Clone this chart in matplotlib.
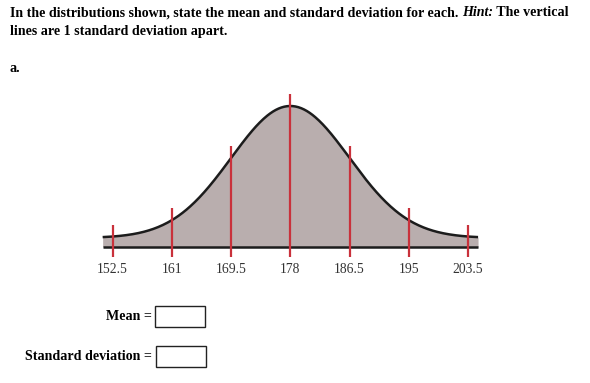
import numpy as np
import matplotlib.pyplot as plt
from matplotlib.patches import Rectangle

# distribution shown
mean = 178
sd = 8.5
tick_vals = [152.5, 161, 169.5, 178, 186.5, 195, 203.5]
tick_labels = ["152.5", "161", "169.5", "178", "186.5", "195", "203.5"]

W, H = 590, 383
fig = plt.figure(figsize=(W / 100, H / 100), dpi=100)
plt.rcParams['font.family'] = ['Liberation Serif', 'DejaVu Serif']

def px(x, y):
    # pixel coords (from top-left) -> figure fraction
    return x / W, 1 - y / H

# axes placed so that the values land where the picture has them
ax = fig.add_axes([95.3 / W, 1 - 261.1 / H, (485.4 - 95.3) / W, (261.1 - 91.9) / H])
ax.set_xlim(150, 206)
ax.set_ylim(-0.1, 1.1)

base = 0.064
x = np.linspace(mean - 3.17 * sd, mean + 3.17 * sd, 400)
y = base + (1 - base) * np.exp(-0.5 * ((x - mean) / sd) ** 2)
ax.fill_between(x, 0, y, color='#b9aeae', lw=0)
ax.plot(x, y, color='#1c1c1c', lw=1.8, solid_capstyle='butt')
ax.plot([x[0], x[-1]], [0, 0], color='#1c1c1c', lw=1.8, solid_capstyle='butt')

for v in tick_vals:
    top = base + (1 - base) * np.exp(-0.5 * ((v - mean) / sd) ** 2) + 0.085
    ax.plot([v, v], [-0.07, top], color='#c9313b', lw=1.6, solid_capstyle='butt')

ax.set_xticks(tick_vals)
ax.set_xticklabels(tick_labels, fontsize=9.8, color='#333333')
ax.tick_params(axis='x', length=0, pad=1.5)
ax.set_yticks([])
for s in ax.spines.values():
    s.set_visible(False)
ax.patch.set_visible(False)

# question text
fs = 10.1
fig.canvas.draw()
r = fig.canvas.get_renderer()
t1 = fig.text(*px(10, 13), "In the distributions shown, state the mean and standard deviation for each. ",
              fontsize=fs, fontweight='bold', va='center', ha='left')
bb = t1.get_window_extent(r)
t2 = fig.text(bb.x1 / W, 1 - 13 / H, "Hint:", fontsize=fs, fontweight='bold',
              fontstyle='italic', va='center', ha='left')
bb2 = t2.get_window_extent(r)
fig.text(bb2.x1 / W, 1 - 13 / H, " The vertical", fontsize=fs, fontweight='bold',
         va='center', ha='left')
fig.text(*px(10, 32), "lines are 1 standard deviation apart.", fontsize=fs,
         fontweight='bold', va='center', ha='left')
fig.text(*px(10, 68), "a.", fontsize=fs, fontweight='bold', va='center', ha='left')

# answer boxes
fig.text(*px(152, 317), "Mean =", fontsize=fs, fontweight='bold', va='center', ha='right')
fig.text(*px(152, 356), "Standard deviation =", fontsize=fs, fontweight='bold',
         va='center', ha='right')
for (bx, by) in [(155, 306), (156, 346)]:
    fx, fy = px(bx, by + 21)
    fig.patches.append(Rectangle((fx, fy), 50 / W, 21 / H, transform=fig.transFigure,
                                 fill=False, ec='#222222', lw=1.0))

fig.savefig('out.png', dpi=100)
